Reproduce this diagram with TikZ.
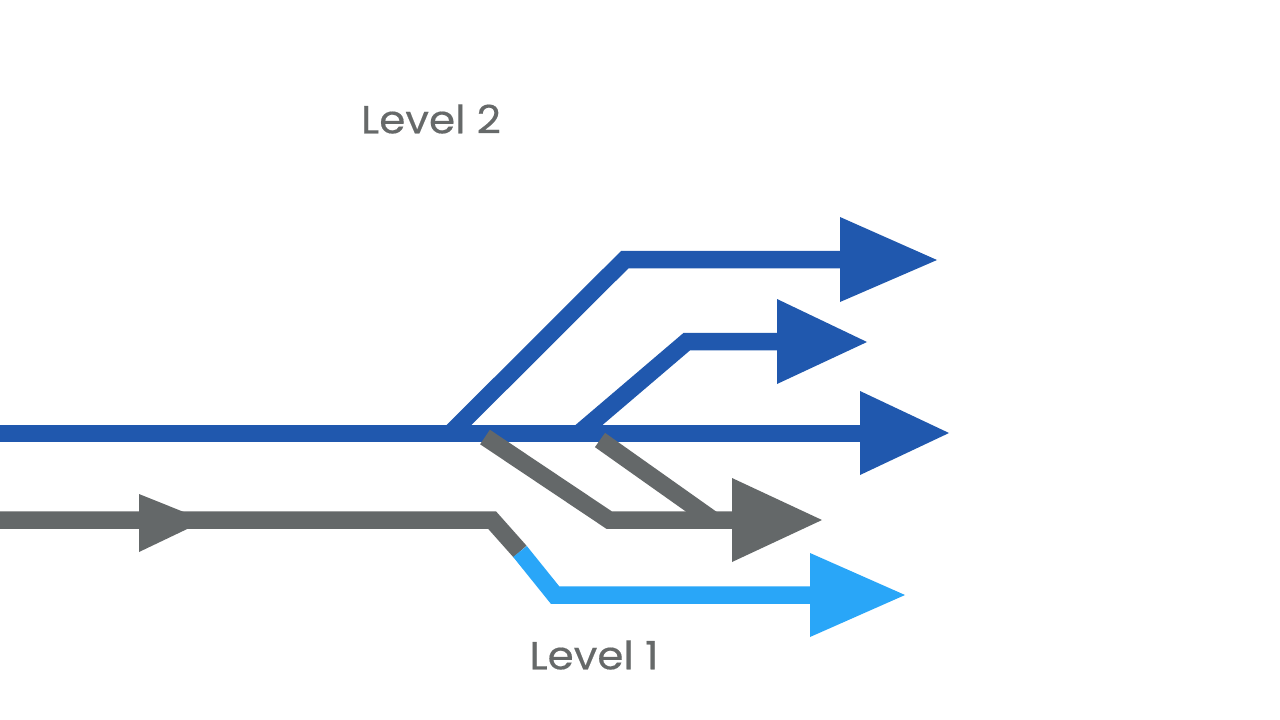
\documentclass[tikz,border=0pt]{standalone}
\usepackage{fontspec}
\setmainfont[FakeStretch=1.08,FakeBold=0.4]{Poppins}
\begin{document}
\begin{tikzpicture}[x=1pt,y=-1pt,
  lab/.style={font=\fontsize{39}{39}\selectfont, text=labgray, inner sep=0pt},
  route/.style={line width=17.5pt, line join=miter}]
\definecolor{labgray}{HTML}{666969}
\definecolor{dblue}{HTML}{2058AE}
\definecolor{dgray}{HTML}{646869}
\definecolor{lblue}{HTML}{29A6F8}
\useasboundingbox (0,0) rectangle (1280,720);
\fill[white] (0,0) rectangle (1280,720);
\node[lab] (l2) at (431,119) {Level 2};
\node[lab] (l1) at (594,655) {Level 1};
% main blue
\draw[route,dblue] (0,433.5) -- (865,433.5);
\draw[route,dblue] (450.5,433.5) -- (624.7,259.7) -- (845,259.7);
\draw[route,dblue] (579,433.5) -- (686.7,341.7) -- (782,341.7);
% gray branches
\draw[route,dgray] (485,437) -- (609,520) -- (735,520);
\draw[route,dgray] (600,440) -- (713,520);
% arrowheads
\fill[dblue] (840,217) -- (937,260) -- (840,302) -- cycle;
\fill[dblue] (777,299) -- (867,342) -- (777,384) -- cycle;
\fill[dblue] (860,391) -- (949,433) -- (860,475) -- cycle;
\fill[dgray] (732,478) -- (822,520) -- (732,562) -- cycle;
% lower route
\draw[route,dgray] (0,520) -- (492,520) -- (520,551.5);
\fill[dgray] (139,494) -- (205,520.5) -- (139,552) -- cycle;
\draw[route,lblue] (520,551.5) -- (555,595) -- (815,595);
\fill[lblue] (810,553) -- (905,595) -- (810,637) -- cycle;
\end{tikzpicture}
\end{document}
